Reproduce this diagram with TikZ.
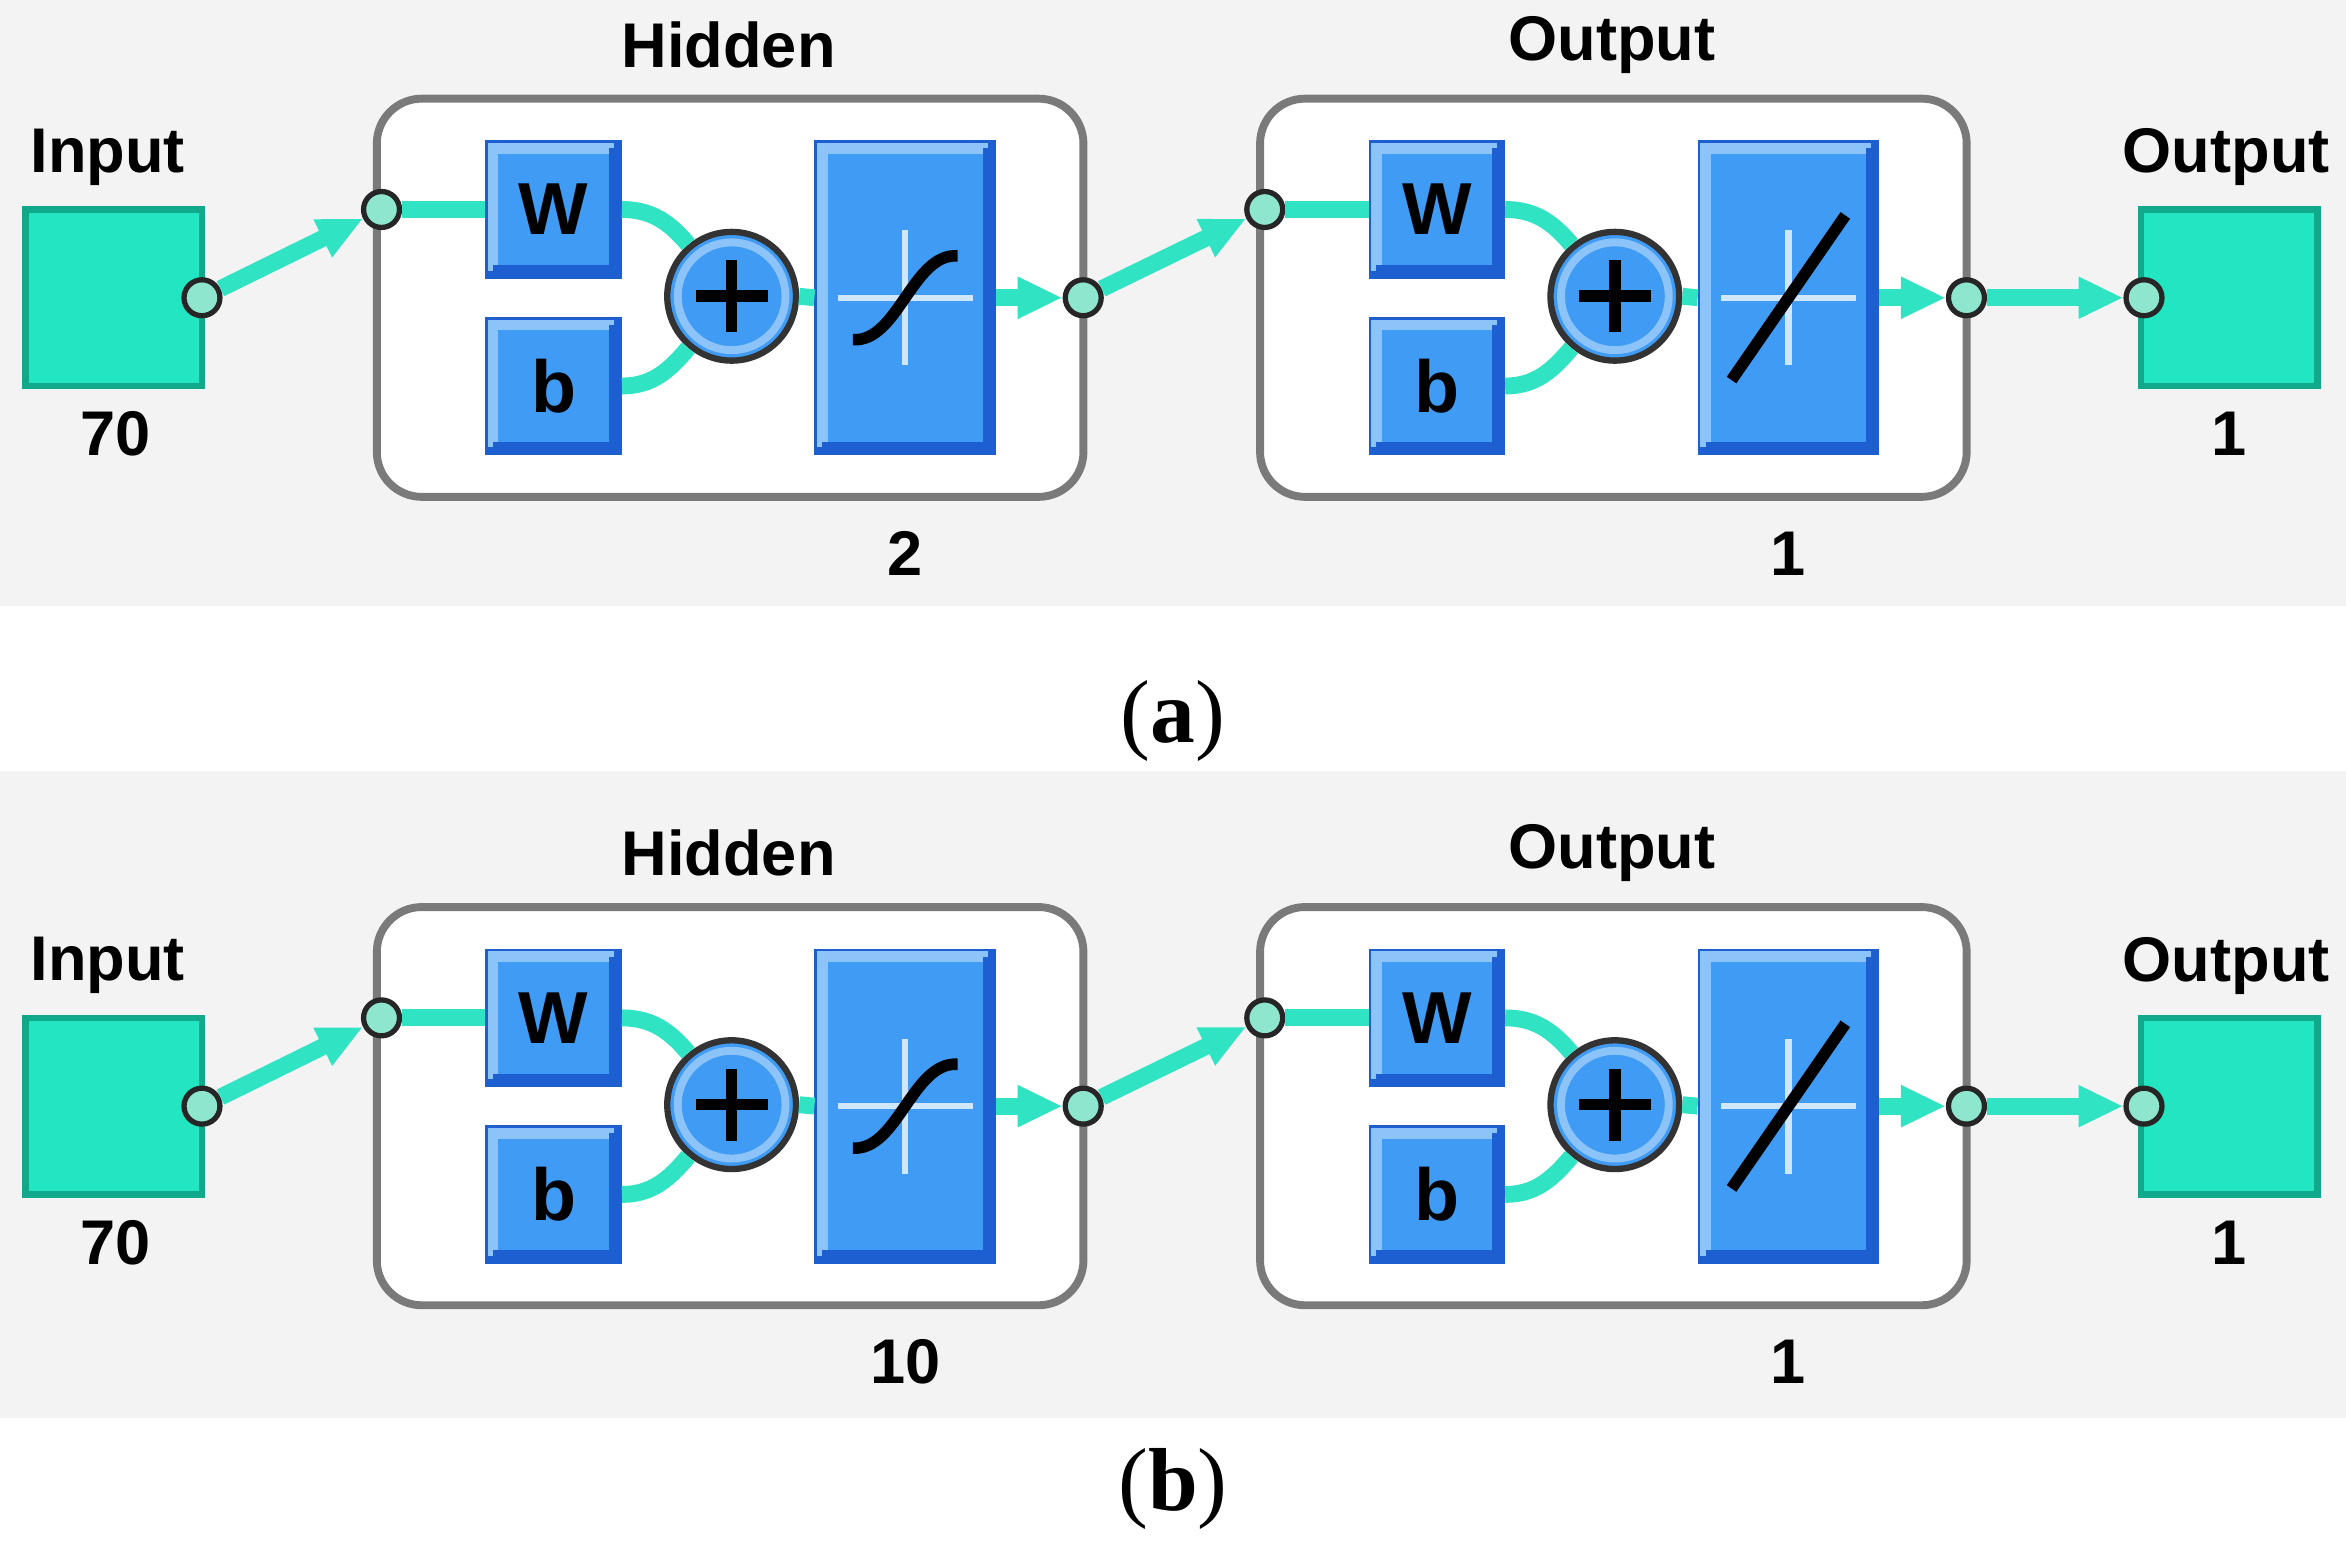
\documentclass[tikz,border=0pt]{standalone}
\usepackage{fontspec}
\setsansfont{Liberation Sans}
\setmainfont{Liberation Serif}
\usetikzlibrary{arrows.meta}
\definecolor{tealc}{HTML}{22E6C2}
\definecolor{tealdk}{HTML}{12A98A}
\definecolor{wirec}{HTML}{2FE3C3}
\definecolor{dotc}{HTML}{8FE6CF}
\definecolor{bluec}{HTML}{3F9BF3}
\definecolor{bluedk}{HTML}{1D5FD0}
\definecolor{bluelt}{HTML}{8CC4FA}
\definecolor{bgc}{HTML}{F3F3F3}
\definecolor{boxc}{HTML}{7A7A7A}
\tikzset{
 lbl/.style={font=\sffamily\bfseries\fontsize{12}{14}\selectfont, inner sep=0},
 sq/.style={draw=tealdk, fill=tealc, line width=1.2pt, minimum width=1.18cm, minimum height=1.18cm, inner sep=0},
 hbox/.style={draw=boxc, fill=white, line width=1.5pt, rounded corners=0.3cm, inner sep=0},
 blk/.style={draw=bluedk, fill=bluec, line width=1.5pt, minimum width=0.86cm, minimum height=0.87cm, inner sep=0, font=\sffamily\bfseries\fontsize{14}{16}\selectfont},
 tf/.style={draw=bluedk, fill=bluec, line width=1.5pt, minimum width=1.16cm, minimum height=2.05cm, inner sep=0},
 plus/.style={circle, draw=black!80, fill=bluec, line width=1.2pt, minimum size=0.86cm, inner sep=0},
 dot/.style={circle, fill=dotc, draw=black!85, line width=1pt, minimum size=0.24cm, inner sep=0},
 wire/.style={draw=wirec, line width=3.2pt},
 arr/.style={wire, -{Triangle[length=0.3cm,width=0.26cm,fill=wirec]}},
 captxt/.style={font=\fontsize{17}{19}\selectfont, inner sep=0}
}
\newcommand\bevel[1]{%
 \draw[bluelt, line width=2pt] ([shift={(1.5pt,1.5pt)}]#1.south west) -- ([shift={(1.5pt,-1.5pt)}]#1.north west) -- ([shift={(-1.5pt,-1.5pt)}]#1.north east);
 \draw[bluedk, line width=2pt] ([shift={(1.5pt,1.5pt)}]#1.south west) -- ([shift={(-1.5pt,1.5pt)}]#1.south east) -- ([shift={(-1.5pt,-1.5pt)}]#1.north east);}
\newcommand\nnlayer[5]{% prefix, x offset, name, count, kind
 \begin{scope}[xshift=#2]
 \node[lbl] (#1t) at (487,30) {#3};
 \node[hbox, minimum width=4.72cm, minimum height=2.66cm] (#1box) at (488,199) {};
 \node[lbl] (#1n) at (605,370) {#4};
 \node[blk] (#1W) at (370,140) {W}; \bevel{#1W}
 \node[blk] (#1b) at (370,258) {b}; \bevel{#1b}
 \node[tf] (#1f) at (605,199) {}; \bevel{#1f}
 \draw[white!75!bluec, line width=1.2pt] ([xshift=-0.45cm]#1f.center) -- ([xshift=0.45cm]#1f.center)
   ([yshift=-0.45cm]#1f.center) -- ([yshift=0.45cm]#1f.center);
 \ifx#5s
 \draw[black, line width=2.2pt] ([shift={(-0.35cm,-0.28cm)}]#1f.center) .. controls ([shift={(-0.05cm,-0.3cm)}]#1f.center) and ([shift={(0.05cm,0.3cm)}]#1f.center) .. ([shift={(0.35cm,0.28cm)}]#1f.center);
 \else
 \draw[black, line width=2.2pt] ([shift={(-0.38cm,-0.55cm)}]#1f.center) -- ([shift={(0.38cm,0.55cm)}]#1f.center);
 \fi
 \node[plus] (#1p) at (489,198) {};
 \draw[bluelt, line width=1.5pt] (#1p.center) circle (0.36cm);
 \draw[black, line width=2.2pt] ([xshift=-0.24cm]#1p.center) -- ([xshift=0.24cm]#1p.center) ([yshift=-0.24cm]#1p.center) -- ([yshift=0.24cm]#1p.center);
 \draw[wire] (#1W.east) to[out=0,in=130] (#1p.130);
 \draw[wire] (#1b.east) to[out=0,in=-130] (#1p.-130);
 \draw[wire] (#1p.east) -- (#1f.west);
 \node[dot] (#1di) at (255,140) {};
 \node[dot] (#1do) at (724,199) {};
 \draw[wire] (#1di) -- (#1W.west);
 \draw[arr] (#1f.east) -- (#1do);
 \end{scope}}
\newcommand\nnpanel[3]{%
 \begin{scope}[yshift=#2]
 \node[lbl] (#1inl) at (72,105) {Input};
 \node[sq] (#1in) at (76,199) {};
 \node[lbl] (#1inn) at (77,290) {70};
 \node[dot] (#1d0) at (135,199) {};
 \nnlayer{#1h}{0cm}{Hidden}{#3}{s}
 \nnlayer{#1o}{5.9cm}{Output}{1}{l}
 \node[lbl] (#1outl) at (1488,105) {Output};
 \node[sq] (#1out) at (1490,199) {};
 \node[lbl] (#1outn) at (1490,290) {1};
 \node[dot] (#1d5) at (1433,199) {};
 \draw[arr] (#1d0) -- (#1hdi);
 \draw[arr] (#1hdo) -- (#1odi);
 \draw[arr] (#1odo) -- (#1d5);
 \end{scope}}
\begin{document}
\begin{tikzpicture}[x=0.01cm,y=-0.01cm]
\useasboundingbox[fill=white] (0,0) rectangle (1568,1032);
\fill[bgc] (0,0) rectangle (1568,405);
\fill[bgc] (0,515) rectangle (1568,948);
\nnpanel{a}{0cm}{2}
\nnpanel{b}{-5.4cm}{10}
\node[captxt] (capa) at (784,482) {(\textbf{a})};
\node[captxt] (capb) at (784,995) {(\textbf{b})};
\end{tikzpicture}
\end{document}
